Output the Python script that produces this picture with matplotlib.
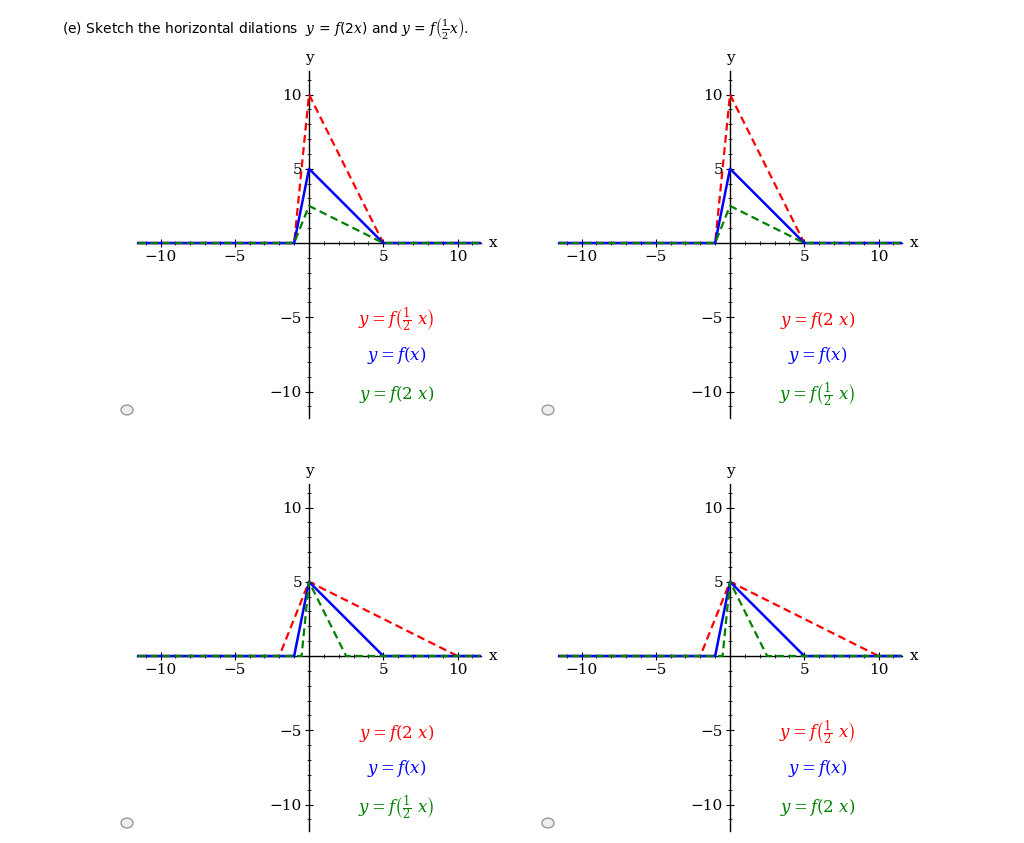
import matplotlib.pyplot as plt
from matplotlib.patches import Circle

plt.rcParams['mathtext.fontset'] = 'dejavuserif'

# base function f and the plotted variants
X_BASE = [-11.5, -1, 0, 5, 11.5]
Y_BASE = [0, 0, 5, 0, 0]

# top row: vertical stretches (peak heights 10 and 2.5)
TOP_RED_X = [-11.5, -1, 0, 5, 11.5]
TOP_RED_Y = [0, 0, 10, 0, 0]
TOP_GREEN_X = [-11.5, -1, 0, 5, 11.5]
TOP_GREEN_Y = [0, 0, 2.5, 0, 0]

# bottom row: horizontal dilations
BOT_RED_X = [-11.5, -2, 0, 10, 11.5]
BOT_RED_Y = [0, 0, 5, 0, 0]
BOT_GREEN_X = [-11.5, -0.5, 0, 2.5, 11.5]
BOT_GREEN_Y = [0, 0, 5, 0, 0]

HALF = r"$y = f\left(\frac{1}{2}\ x\right)$"
TWO = r"$y = f(2\ x)$"
FX = r"$y = f(x)$"

PANELS = [
    # (left px, origin-y px, red curve, green curve, red label, green label)
    (309, 243, (TOP_RED_X, TOP_RED_Y), (TOP_GREEN_X, TOP_GREEN_Y), HALF, TWO),
    (730, 243, (TOP_RED_X, TOP_RED_Y), (TOP_GREEN_X, TOP_GREEN_Y), TWO, HALF),
    (309, 656, (BOT_RED_X, BOT_RED_Y), (BOT_GREEN_X, BOT_GREEN_Y), TWO, HALF),
    (730, 656, (BOT_RED_X, BOT_RED_Y), (BOT_GREEN_X, BOT_GREEN_Y), HALF, TWO),
]

W, H = 1024, 843
fig = plt.figure(figsize=(W / 100, H / 100), dpi=100)

fig.text(62 / W, 1 - 28 / H,
         r"(e) Sketch the horizontal dilations  $y$ = $f$(2$x$) and $y$ = $f\left(\frac{1}{2}x\right)$.",
         fontsize=10, va='center', ha='left', family='DejaVu Sans')

PX = 14.85
XL, XR, YB, YT = -11.6, 11.6, -11.8, 11.6

for ox, oy, red, green, red_lab, green_lab in PANELS:
    left = ox + XL * PX
    top = oy - YT * PX
    ax = fig.add_axes([left / W, 1 - (oy - YB * PX) / H,
                       (XR - XL) * PX / W, (YT - YB) * PX / H])
    ax.set_xlim(XL, XR)
    ax.set_ylim(YB, YT)
    ax.patch.set_alpha(0)
    for s in ('top', 'right'):
        ax.spines[s].set_visible(False)
    ax.spines['left'].set_position(('data', 0))
    ax.spines['bottom'].set_position(('data', 0))
    for s in ('left', 'bottom'):
        ax.spines[s].set_linewidth(1.0)
    ax.set_xticks([-10, -5, 5, 10])
    ax.set_yticks([-10, -5, 5, 10])
    ax.set_xticks([v for v in range(-11, 12) if v % 5], minor=True)
    ax.set_yticks([v for v in range(-11, 12) if v % 5], minor=True)
    ax.set_xticklabels(['\u221210', '\u22125', '5', '10'])
    ax.set_yticklabels(['\u221210', '\u22125', '5', '10'])
    ax.tick_params(which='major', direction='inout', length=6, width=0.8,
                   labelsize=11, labelfontfamily='DejaVu Serif', pad=2)
    ax.tick_params(which='minor', direction='inout', length=3, width=0.6)
    ax.text(XR + 0.5, 0, 'x', fontsize=11, family='DejaVu Serif', va='center', ha='left')
    ax.text(0, YT + 0.4, 'y', fontsize=11, family='DejaVu Serif', va='bottom', ha='center')

    ax.plot(*red, color='#ff0000', lw=1.6, ls=(0, (3.5, 2)), zorder=3)
    ax.plot(X_BASE, Y_BASE, color='#0000ff', lw=1.8, zorder=4)
    ax.plot(*green, color='#008000', lw=1.6, ls=(0, (3.5, 2)), zorder=5)

    ax.text(5.9, -5.2, red_lab, color='#ff0000', fontsize=12, ha='center', va='center')
    ax.text(5.9, -7.6, FX, color='#0000ff', fontsize=12, ha='center', va='center')
    ax.text(5.9, -10.2, green_lab, color='#008000', fontsize=12, ha='center', va='center')

    # radio button
    fig.patches.append(Circle(((ox - 182) / W, 1 - (oy + 167) / H), 6 / W,
                              transform=fig.transFigure, facecolor='#eeeeee',
                              edgecolor='#999999', lw=1))

fig.savefig('out.png', dpi=100)
